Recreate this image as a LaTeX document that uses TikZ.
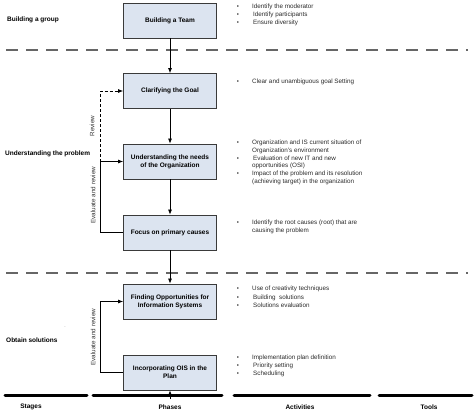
\documentclass[tikz,border=0pt]{standalone}
\usepackage{fontspec}
\setmainfont{Liberation Sans}
\usetikzlibrary{arrows.meta}
\definecolor{boxfill}{HTML}{DCE4F0}
\definecolor{boxdraw}{HTML}{3A3A3A}
\definecolor{acttext}{HTML}{2A2A2A}
\tikzset{
  phasebox/.style={draw=boxdraw, line width=0.8pt, fill=boxfill, minimum width=93pt, minimum height=35pt,
    inner sep=1pt, align=center, font=\fontsize{6.5}{8}\selectfont\bfseries},
  stagelbl/.style={anchor=west, inner sep=0pt, font=\fontsize{6.5}{8}\selectfont\bfseries},
  bottomlbl/.style={inner sep=0pt, font=\fontsize{6.5}{8}\selectfont\bfseries},
  act/.style={anchor=west, inner sep=0pt, text height=4.5pt, text depth=1.3pt, text=acttext,
    font=\fontsize{6.3}{8}\selectfont},
  bul/.style={inner sep=0pt, text height=4.5pt, text depth=1.3pt, text=acttext, font=\fontsize{6}{8}\selectfont},
  arr/.style={-{Latex[length=5pt,width=4pt]}, line width=0.7pt, draw=black},
  sep/.style={draw=black!60, line width=1.3pt, dash pattern=on 12pt off 8pt},
  baseline/.style={line width=3pt, line cap=round, draw=black},
  rotlbl/.style={rotate=90, inner sep=0pt, text=black!80, font=\fontsize{6.3}{7}\selectfont}
}
\begin{document}
\begin{tikzpicture}[x=1pt,y=-1pt]
\useasboundingbox (0,0) rectangle (474,415);
% separators
\draw[sep] (6,50) -- (468,50);
\draw[sep] (6,273) -- (468,273);
% bottom lines
\draw[baseline] (5,395) -- (87,395);
\draw[baseline] (93,395) -- (222,395);
\draw[baseline] (234,395) -- (370,395);
\draw[baseline] (379,395) -- (472,395);
% phase boxes
\node[phasebox] (b1) at (170,20.5) {Building a Team};
\node[phasebox] (b2) at (170,91) {Clarifying the Goal};
\node[phasebox] (b3) at (170,161.5) {Understanding the needs\\of the Organization};
\node[phasebox] (b4) at (170,232.5) {Focus on primary causes};
\node[phasebox] (b5) at (170,301.5) {Finding Opportunities for\\Information Systems};
\node[phasebox] (b6) at (170,372.5) {Incorporating OIS in the\\Plan};
% main arrows
\draw[arr] (b1) -- (b2);
\draw[arr] (b2) -- (b3);
\draw[arr] (b3) -- (b4);
\draw[arr] (b4) -- (b5);
\coordinate (pbot) at (170,399);
\draw[arr] (pbot) -- (b6);
% feedback loops
\coordinate (j1) at (100,161.5);
\draw[arr] (b4.west) -| (j1) -- (b3.west);
\draw[arr, dashed, dash pattern=on 3pt off 2pt] (j1) |- (b2.west);
\coordinate (j2) at (100,372.5);
\draw[arr] (b6.west) -- (j2) |- (b5.west);
\node[rotlbl] (rv) at (92,126) {Review};
\node[rotlbl] (er1) at (93,195) {Evaluate and review};
\node[rotlbl] (er2) at (93,337) {Evaluate and review};
% stage labels
\node[stagelbl] (s1) at (7,20) {Building a group};
\node[stagelbl] (s2) at (5,154) {Understanding the problem};
\node[stagelbl] (s3) at (6,340) {Obtain solutions};
\node[inner sep=0pt, font=\fontsize{5}{5}\selectfont, text=black!50] (dot) at (65,327) {.};
% bottom labels
\node[bottomlbl] (l1) at (31,407) {Stages};
\node[bottomlbl] (l2) at (170,407) {Phases};
\node[bottomlbl] (l3) at (300,407) {Activities};
\node[bottomlbl] (l4) at (429,407) {Tools};
% activities
\node[bul] (u1) at (238,7) {•};   \node[act] (a1) at (252,7) {Identify the moderator};
\node[bul] (u2) at (238,15) {•};  \node[act] (a2) at (253,15) {Identify participants};
\node[bul] (u3) at (238,23) {•};  \node[act] (a3) at (253,23) {Ensure diversity};
\node[bul] (u4) at (238,82) {•};  \node[act] (a4) at (252,82) {Clear and unambiguous goal Setting};
\node[bul] (u5) at (238,143) {•}; \node[act] (a5) at (252,143) {Organization and IS current situation of};
                                  \node[act] (a5b) at (252,151) {Organization's environment};
\node[bul] (u6) at (238,158.5) {•}; \node[act] (a6) at (253,158.5) {Evaluation of new IT and new};
                                  \node[act] (a6b) at (252,166) {opportunities (OSI)};
\node[bul] (u7) at (238,174) {•}; \node[act] (a7) at (252,174) {Impact of the problem and its resolution};
                                  \node[act] (a7b) at (252,182) {(achieving target) in the organization};
\node[bul] (u8) at (238,223) {•}; \node[act] (a8) at (252,223) {Identify the root causes (root) that are};
                                  \node[act] (a8b) at (252,231) {causing the problem};
\node[bul] (u9) at (238,289) {•}; \node[act] (a9) at (252,289) {Use of creativity techniques};
\node[bul] (u10) at (238,297.5) {•}; \node[act] (a10) at (253,297.5) {Building \ solutions};
\node[bul] (u11) at (238,306) {•}; \node[act] (a11) at (253,306) {Solutions evaluation};
\node[bul] (u12) at (238,358) {•}; \node[act] (a12) at (252,358) {Implementation plan definition};
\node[bul] (u13) at (238,366) {•}; \node[act] (a13) at (253,366) {Priority setting};
\node[bul] (u14) at (238,374) {•}; \node[act] (a14) at (253,374) {Scheduling};
\end{tikzpicture}
\end{document}
